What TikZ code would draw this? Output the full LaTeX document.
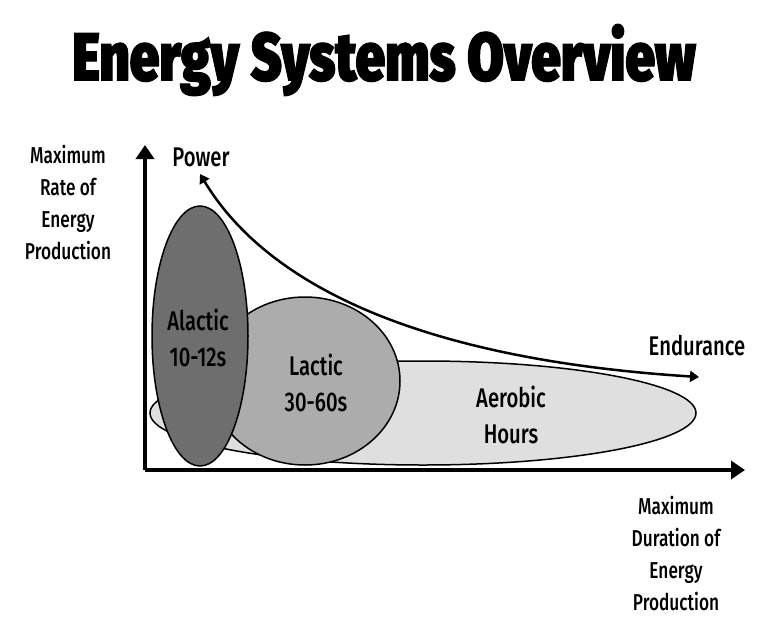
\documentclass[tikz,border=0pt]{standalone}
\usepackage{fontspec}
\setmainfont[FakeStretch=0.75]{Fira Sans Medium}
\newfontfamily\titlefont[FakeStretch=0.78,FakeBold=1.5]{Fira Sans Black}
\usetikzlibrary{arrows.meta}
\begin{document}
\begin{tikzpicture}[x=1pt,y=-1pt,
  lbl/.style={align=center,font=\fontsize{23}{32}\selectfont},
  bigl/.style={align=center,font=\fontsize{27}{36}\selectfont},
  ell/.style={draw=black,line width=1.5pt}]
\useasboundingbox (0,0) rectangle (768,632);
\node (title) at (384,60) {\titlefont\fontsize{68}{74}\selectfont Energy Systems Overview};
\draw[ell,fill=gray!25] (423,413) ellipse [x radius=273,y radius=52];
\draw[ell,fill=gray!65] (305,381) ellipse [x radius=95,y radius=84];
\draw[ell,fill=black!57] (200,336) ellipse [x radius=48,y radius=130];
\node[bigl] (aer) at (511,415) {Aerobic\\Hours};
\node[bigl] (lac) at (316,383) {Lactic\\30-60s};
\node[bigl] (ala) at (198,338) {Alactic\\10-12s};
\coordinate (o) at (145,470);
\coordinate (yt) at (145,145);
\coordinate (xt) at (745,470);
\draw[line width=4.5pt,-{Triangle[length=14pt,width=18pt]}] (o) -- (yt);
\draw[line width=4.5pt,-{Triangle[length=14pt,width=18pt]}] (o) -- (xt);
\coordinate (cs) at (200,174);
\coordinate (ce) at (699,377);
\draw[line width=2.5pt,{Triangle[length=9pt,width=11pt]}-{Triangle[length=9pt,width=11pt]}] (cs) .. controls (270,290) and (430,360) .. (ce);
\node[lbl] (ylab) at (68,203) {Maximum\\Rate of\\Energy\\Production};
\node[lbl] (xlab) at (676,553) {Maximum\\Duration of\\Energy\\Production};
\node[bigl] (pow) at (201,157) {Power};
\node[bigl] (end) at (697,346) {Endurance};
\end{tikzpicture}
\end{document}
